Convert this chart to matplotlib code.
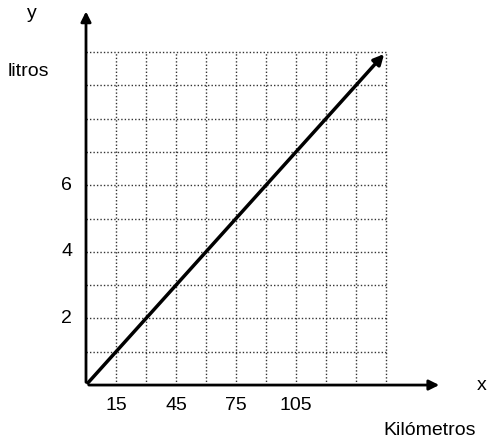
import matplotlib
matplotlib.use("Agg")
import matplotlib.pyplot as plt

plt.rcParams["font.family"] = ["Liberation Sans", "DejaVu Sans"]

# data
x_grid = [15, 30, 45, 60, 75, 90, 105, 120, 135, 150]
y_grid = [1, 2, 3, 4, 5, 6, 7, 8, 9, 10]
x_ticks = [15, 45, 75, 105]
y_ticks = [2, 4, 6]
line_x = [0, 150]
line_y = [0, 10]

fig = plt.figure(figsize=(4.97, 4.44), dpi=100)
ax = fig.add_axes([0, 0, 1, 1])
ax.set_xlim(-43, 205.5)
ax.set_ylim(-1.77, 11.56)
ax.axis("off")

for gx in x_grid:
    ax.plot([gx, gx], [0, 10], color="#333333", linestyle=(0, (1, 1.5)), linewidth=1)
for gy in y_grid:
    ax.plot([0, 150], [gy, gy], color="#333333", linestyle=(0, (1, 1.5)), linewidth=1)

# axes with arrows
ax.annotate("", xy=(178, 0), xytext=(0, 0),
            arrowprops=dict(arrowstyle="-|>", color="black", lw=2, mutation_scale=15))
ax.annotate("", xy=(0, 11.3), xytext=(0, 0),
            arrowprops=dict(arrowstyle="-|>", color="black", lw=2, mutation_scale=15))

ax.annotate("", xy=(line_x[1], line_y[1]), xytext=(line_x[0], line_y[0]),
            arrowprops=dict(arrowstyle="-|>", color="black", lw=2.5, mutation_scale=15))

fs = 14
for t in x_ticks:
    ax.text(t, -0.35, str(t), ha="center", va="top", fontsize=fs)
for t in y_ticks:
    ax.text(-7, t, str(t), ha="right", va="center", fontsize=fs)

ax.text(-27, 11.15, "y", ha="center", va="center", fontsize=fs)
ax.text(-29, 9.4, "litros", ha="center", va="center", fontsize=fs)
ax.text(198, 0.0, "x", ha="center", va="center", fontsize=fs)
ax.text(172, -1.35, "Kilómetros", ha="center", va="center", fontsize=fs)

fig.savefig("out.png", dpi=100, facecolor="white")
